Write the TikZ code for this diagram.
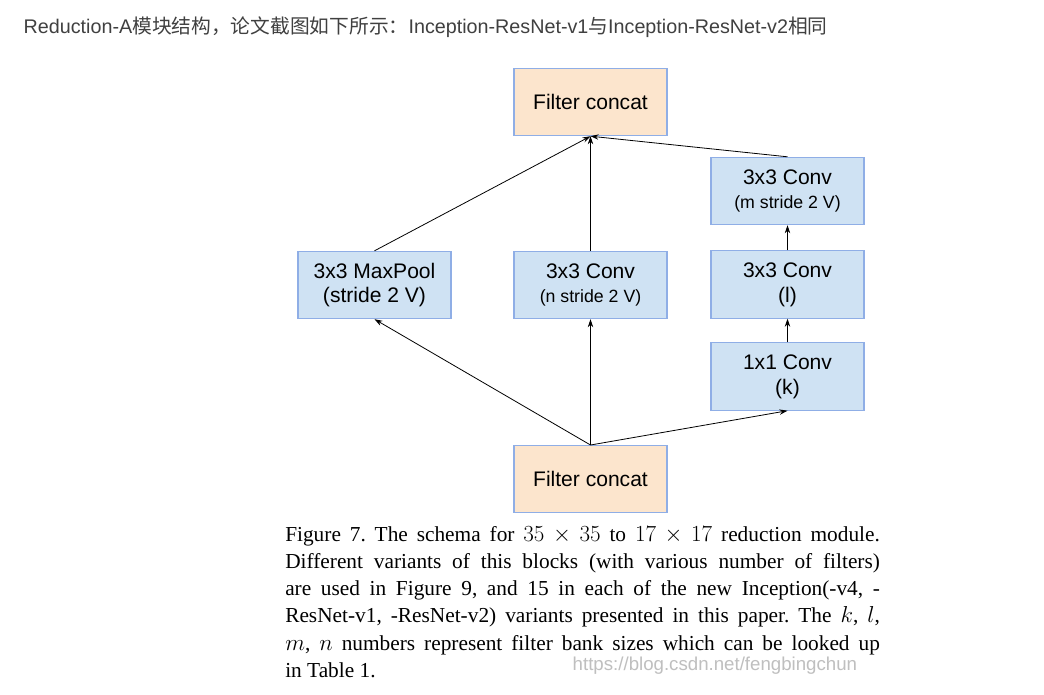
\documentclass[tikz,border=0pt]{standalone}
\usepackage{fontspec}
\usetikzlibrary{arrows.meta}
\setmainfont{Liberation Serif}
\setsansfont{Liberation Sans}
\newfontfamily\cjk{Noto Sans CJK SC}
\begin{document}
\begin{tikzpicture}[x=0.75pt,y=-0.75pt,
 box/.style={draw=bordc, line width=0.8pt, fill=bluefill, minimum width=114.75pt, minimum height=50.5pt, align=center, font=\sffamily\fontsize{15.8}{18.5}\selectfont},
 cat/.style={box, fill=peach},
 arr/.style={-{Stealth[length=6pt,width=4pt]}, line width=0.6pt}]
\definecolor{bluefill}{HTML}{CFE2F3}
\definecolor{peach}{HTML}{FCE5CD}
\definecolor{bordc}{HTML}{8FAEE6}
\useasboundingbox (0,0) rectangle (1044,694);
\fill[white] (0,0) rectangle (1044,694);
\node[anchor=west, font=\sffamily\fontsize{14.8}{16}\selectfont, text=black!75] (hdr) at (19,27) {Reduction-A{\cjk 模块结构，论文截图如下所示：}Inception-ResNet-v1{\cjk 与}Inception-ResNet-v2{\cjk 相同}};
\node[cat] (top) at (590.5,102) {Filter concat};
\node[box] (m) at (787.5,191) {3x3 Conv\\[-1pt]{\fontsize{13.3}{15}\selectfont(m stride 2 V)}};
\node[box] (mp) at (374.5,285) {3x3 MaxPool\\(stride 2 V)};
\node[box] (n) at (590.5,285) {3x3 Conv\\[-1pt]{\fontsize{13.3}{15}\selectfont(n stride 2 V)}};
\node[box] (l) at (787.5,284.5) {3x3 Conv\\(l)};
\node[box] (k) at (787.5,376.5) {1x1 Conv\\(k)};
\node[cat] (bot) at (590.5,479) {Filter concat};
\coordinate (b) at (590.5,445);
\draw[arr] (b) -- (mp.south);
\draw[arr] (b) -- (n.south);
\draw[arr] (b) -- (k.south);
\draw[arr] (k.north) -- (l.south);
\draw[arr] (l.north) -- (m.south);
\draw[arr] (mp.north) -- (top.south);
\draw[arr] (n.north) -- (top.south);
\draw[arr] (m.north) -- (top.south);
\node[anchor=north west, text width=446pt, align=justify, inner sep=0pt, font=\fontsize{16}{20.4}\selectfont] (cap) at (285,526) {\frenchspacing\hyphenpenalty=10000 Figure 7. The schema for $35\times35$ to $17\times17$ reduction module.\linebreak Different variants of this blocks (with various number of filters)\linebreak are used in Figure 9, and 15 in each of the new Inception(-v4, -\linebreak ResNet-v1, -ResNet-v2) variants presented in this paper. The $k$, $l$,\linebreak $m$, $n$ numbers represent filter bank sizes which can be looked up\linebreak in Table 1.};
\node[anchor=west, text=black!25, font=\sffamily\fontsize{14}{15}\selectfont] (wm) at (568,666) {https://blog.csdn.net/fengbingchun};
\end{tikzpicture}
\end{document}
